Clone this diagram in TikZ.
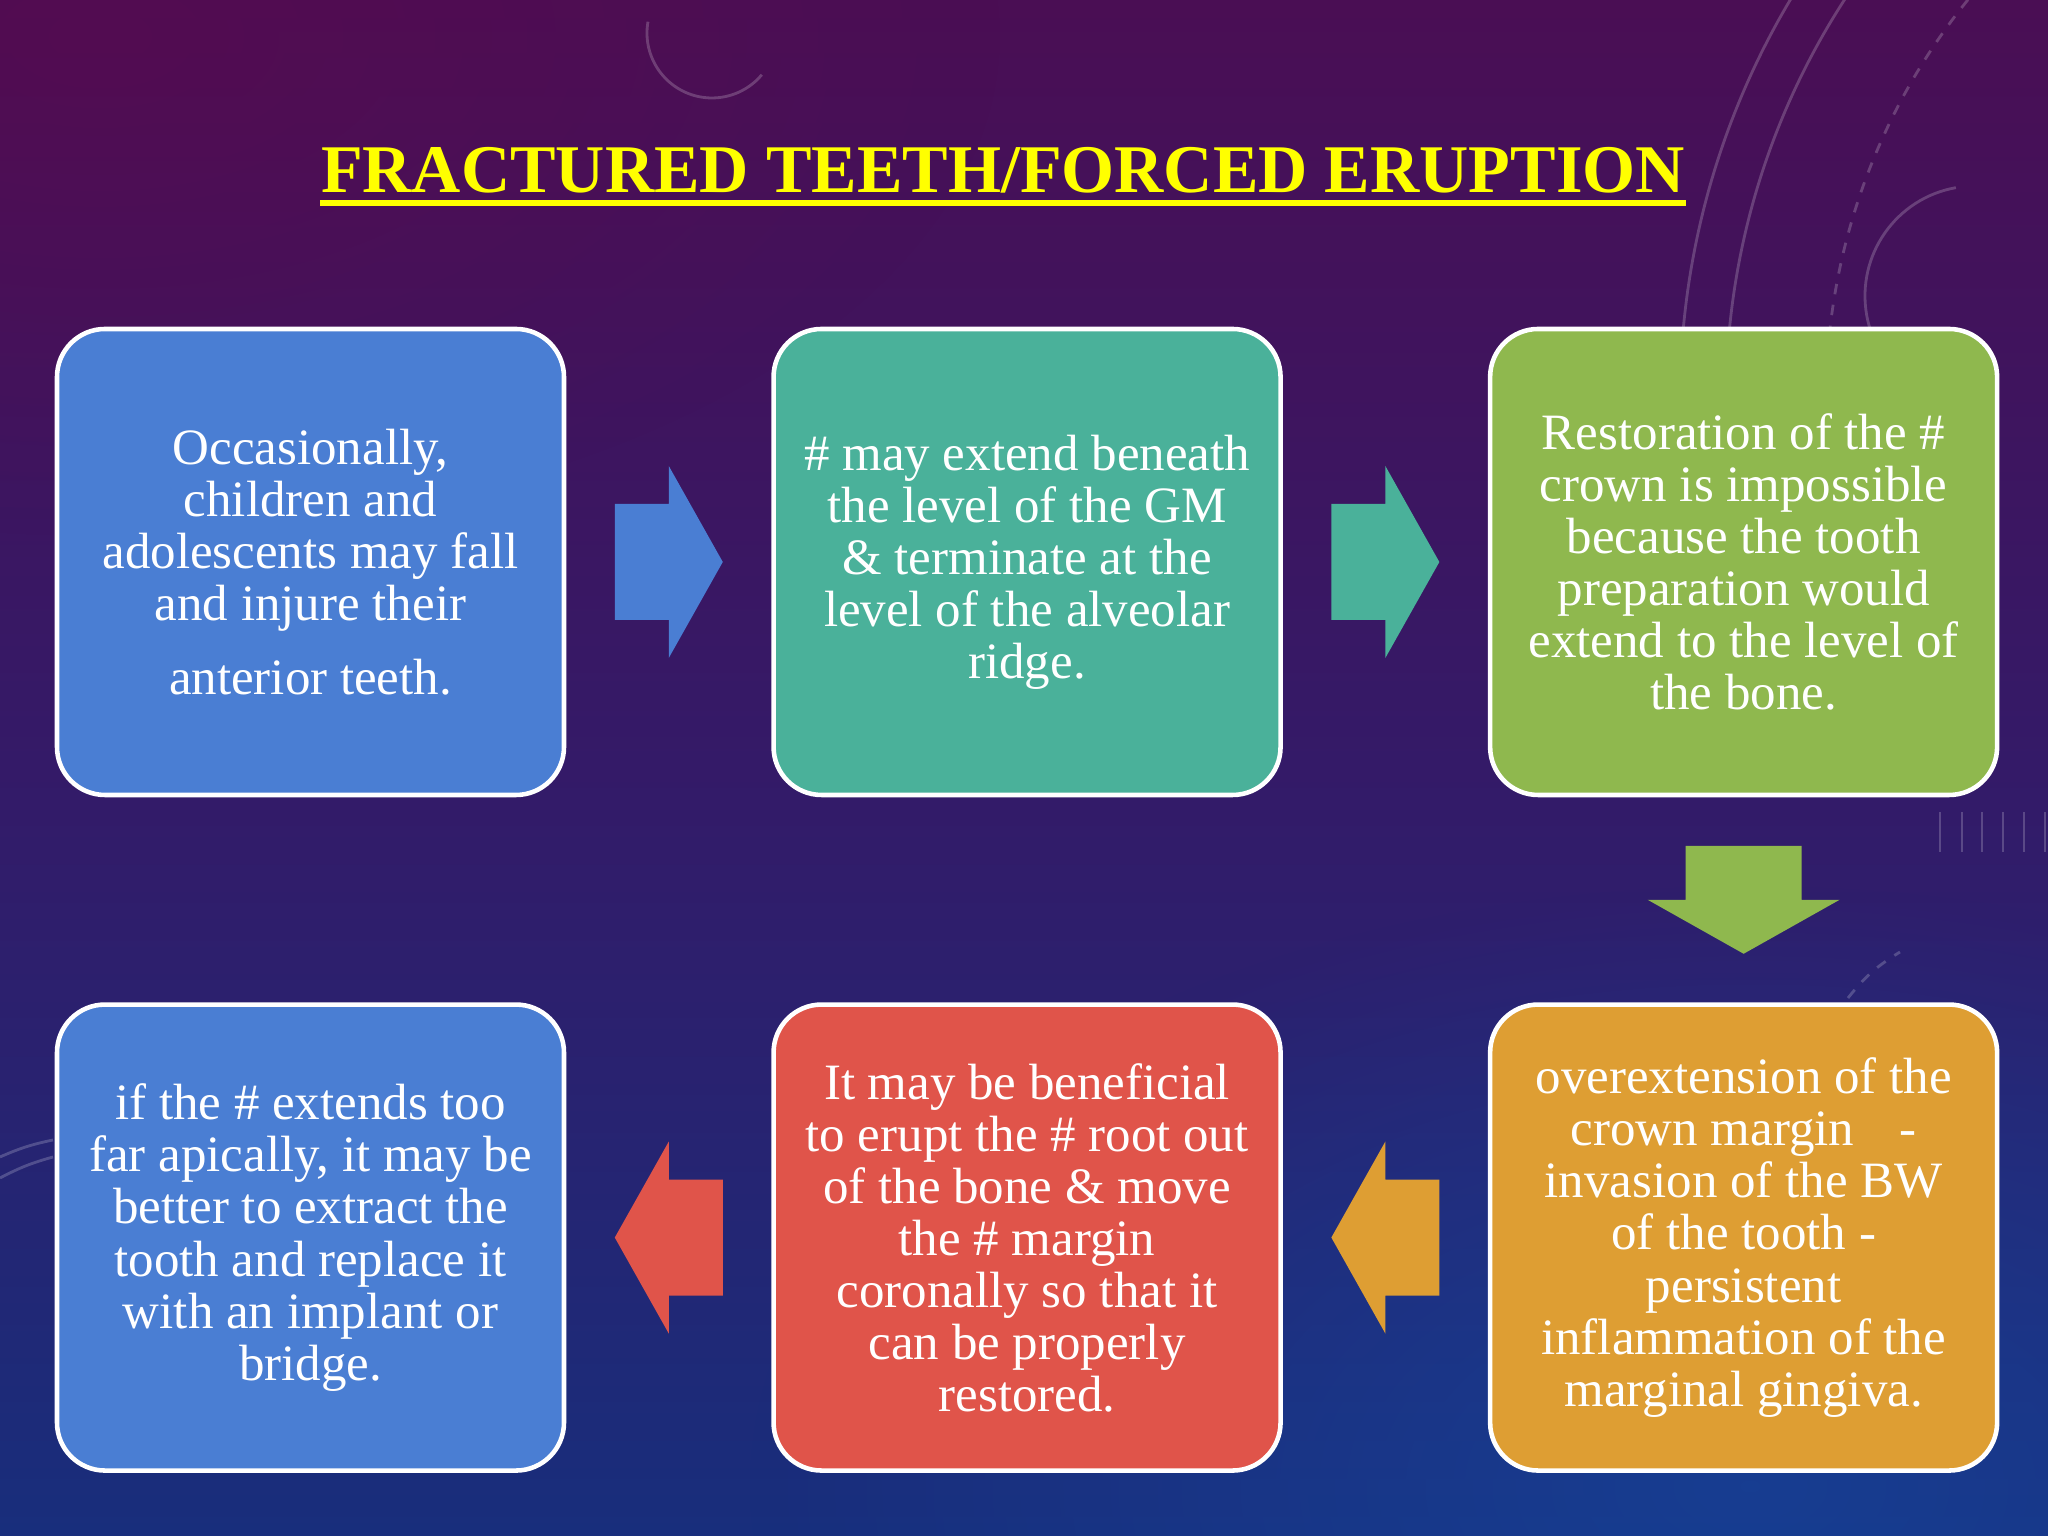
\documentclass[tikz,border=0pt]{standalone}
\usepackage{fontspec}
\setmainfont{Liberation Serif}
\usetikzlibrary{positioning,calc,fadings}

\definecolor{bgtop}{RGB}{74,14,84}
\definecolor{bgmid}{RGB}{52,26,104}
\definecolor{bgbot}{RGB}{24,46,124}
\definecolor{glowblue}{RGB}{22,72,160}
\definecolor{glowpink}{RGB}{92,10,78}
\definecolor{titleyellow}{RGB}{255,255,0}
\definecolor{boxblue}{RGB}{74,126,211}
\definecolor{boxteal}{RGB}{74,177,154}
\definecolor{boxgreen}{RGB}{143,184,78}
\definecolor{boxorange}{RGB}{222,158,51}
\definecolor{boxred}{RGB}{224,84,74}

\tikzfading[name=glowfade, inner color=transparent!0, outer color=transparent!100]

\tikzset{
  pics/flowarrow/.style={code={
    \fill (-0.54,0.58) -- (0,0.58) -- (0,0.96) -- (0.54,0) -- (0,-0.96) -- (0,-0.58) -- (-0.54,-0.58) -- cycle;
  }}
}

\begin{document}
\begin{tikzpicture}[
    stepbox/.style={rectangle, rounded corners=0.48cm, draw=white, line width=1.3pt, fill=#1, text=white, align=center, minimum width=5.07cm, minimum height=4.66cm, inner sep=0pt, font=\fontsize{14.5}{14.8}\selectfont},
    deco/.style={white, opacity=0.2, line width=0.8pt}
]
\useasboundingbox (0,0) rectangle (20.48,15.36);

% Background
\shade[top color=bgtop, bottom color=bgbot, middle color=bgmid] (0,0) rectangle (20.48,15.36);
\fill[glowblue, path fading=glowfade, opacity=0.6] (17.5,0.5) ellipse (10 and 6);
\fill[glowpink, path fading=glowfade, opacity=0.5] (1,15) ellipse (9 and 5);

% Faint rings
\begin{scope}
\clip (0,0) rectangle (20.48,15.36);
\draw[deco] (24.61,11.36) ++(140:7.81) arc (140:205:7.81);
\draw[deco] (24.61,11.36) ++(140:7.35) arc (140:205:7.35);
\draw[deco, dashed] (24.61,11.36) ++(120:6.35) arc (120:200:6.35);
\draw[deco] (19.75,12.4) ++(100:1.1) arc (100:230:1.1);
\draw[deco] (7.12,15.03) ++(170:0.65) arc (170:320:0.65);
\draw[deco] (0,3.79) to[bend left=6] (0.53,3.96);
\draw[deco] (0,3.58) to[bend left=6] (0.53,3.79);
\foreach \x in {19.40,19.62,19.82,20.03,20.24,20.45}
  \draw[deco, line width=0.5pt] (\x,7.24) -- (\x,6.84);
\draw[deco, dashed] (18.48,5.38) to[bend left=10] (19.00,5.84);
\end{scope}

% Title
\node[font=\fontsize{19.4}{23}\selectfont\bfseries, text=titleyellow, inner sep=0pt, anchor=base] (title) at (10.03,13.43) {FRACTURED TEETH/FORCED ERUPTION};
\draw[titleyellow, line width=1.7pt] ($(title.base west)+(0,-0.10)$) -- ($(title.base east)+(0,-0.10)$);

% Steps
\node[stepbox=boxblue] (s1) at (3.105,9.74) {Occasionally,\\children and\\adolescents may fall\\and injure their\\[0.22cm]anterior teeth.};
\node[stepbox=boxteal, right=2.05cm of s1] (s2) {\# may extend beneath\\the level of the GM\\\& terminate at the\\level of the alveolar\\ridge.};
\node[stepbox=boxgreen, right=2.05cm of s2] (s3) {Restoration of the \#\\crown is impossible\\because the tooth\\preparation would\\extend to the level of\\the bone.};
\node[stepbox=boxorange, below=2.05cm of s3] (s4) {overextension of the\\crown margin\hspace{0.45cm}-\\invasion of the BW\\of the tooth -\\persistent\\inflammation of the\\marginal gingiva.};
\node[stepbox=boxred, left=2.05cm of s4] (s5) {It may be beneficial\\to erupt the \# root out\\of the bone \& move\\the \# margin\\coronally so that it\\can be properly\\restored.};
\node[stepbox=boxblue, left=2.05cm of s5] (s6) {if the \# extends too\\far apically, it may be\\better to extract the\\tooth and replace it\\with an implant or\\bridge.};

% Block arrows
\pic[color=boxblue] at ($(s1.east)!0.5!(s2.west)$) {flowarrow};
\pic[color=boxteal] at ($(s2.east)!0.5!(s3.west)$) {flowarrow};
\pic[color=boxgreen, rotate=-90] at ($(s3.south)!0.5!(s4.north)$) {flowarrow};
\pic[color=boxorange, rotate=180] at ($(s4.west)!0.5!(s5.east)$) {flowarrow};
\pic[color=boxred, rotate=180] at ($(s5.west)!0.5!(s6.east)$) {flowarrow};

\end{tikzpicture}
\end{document}
